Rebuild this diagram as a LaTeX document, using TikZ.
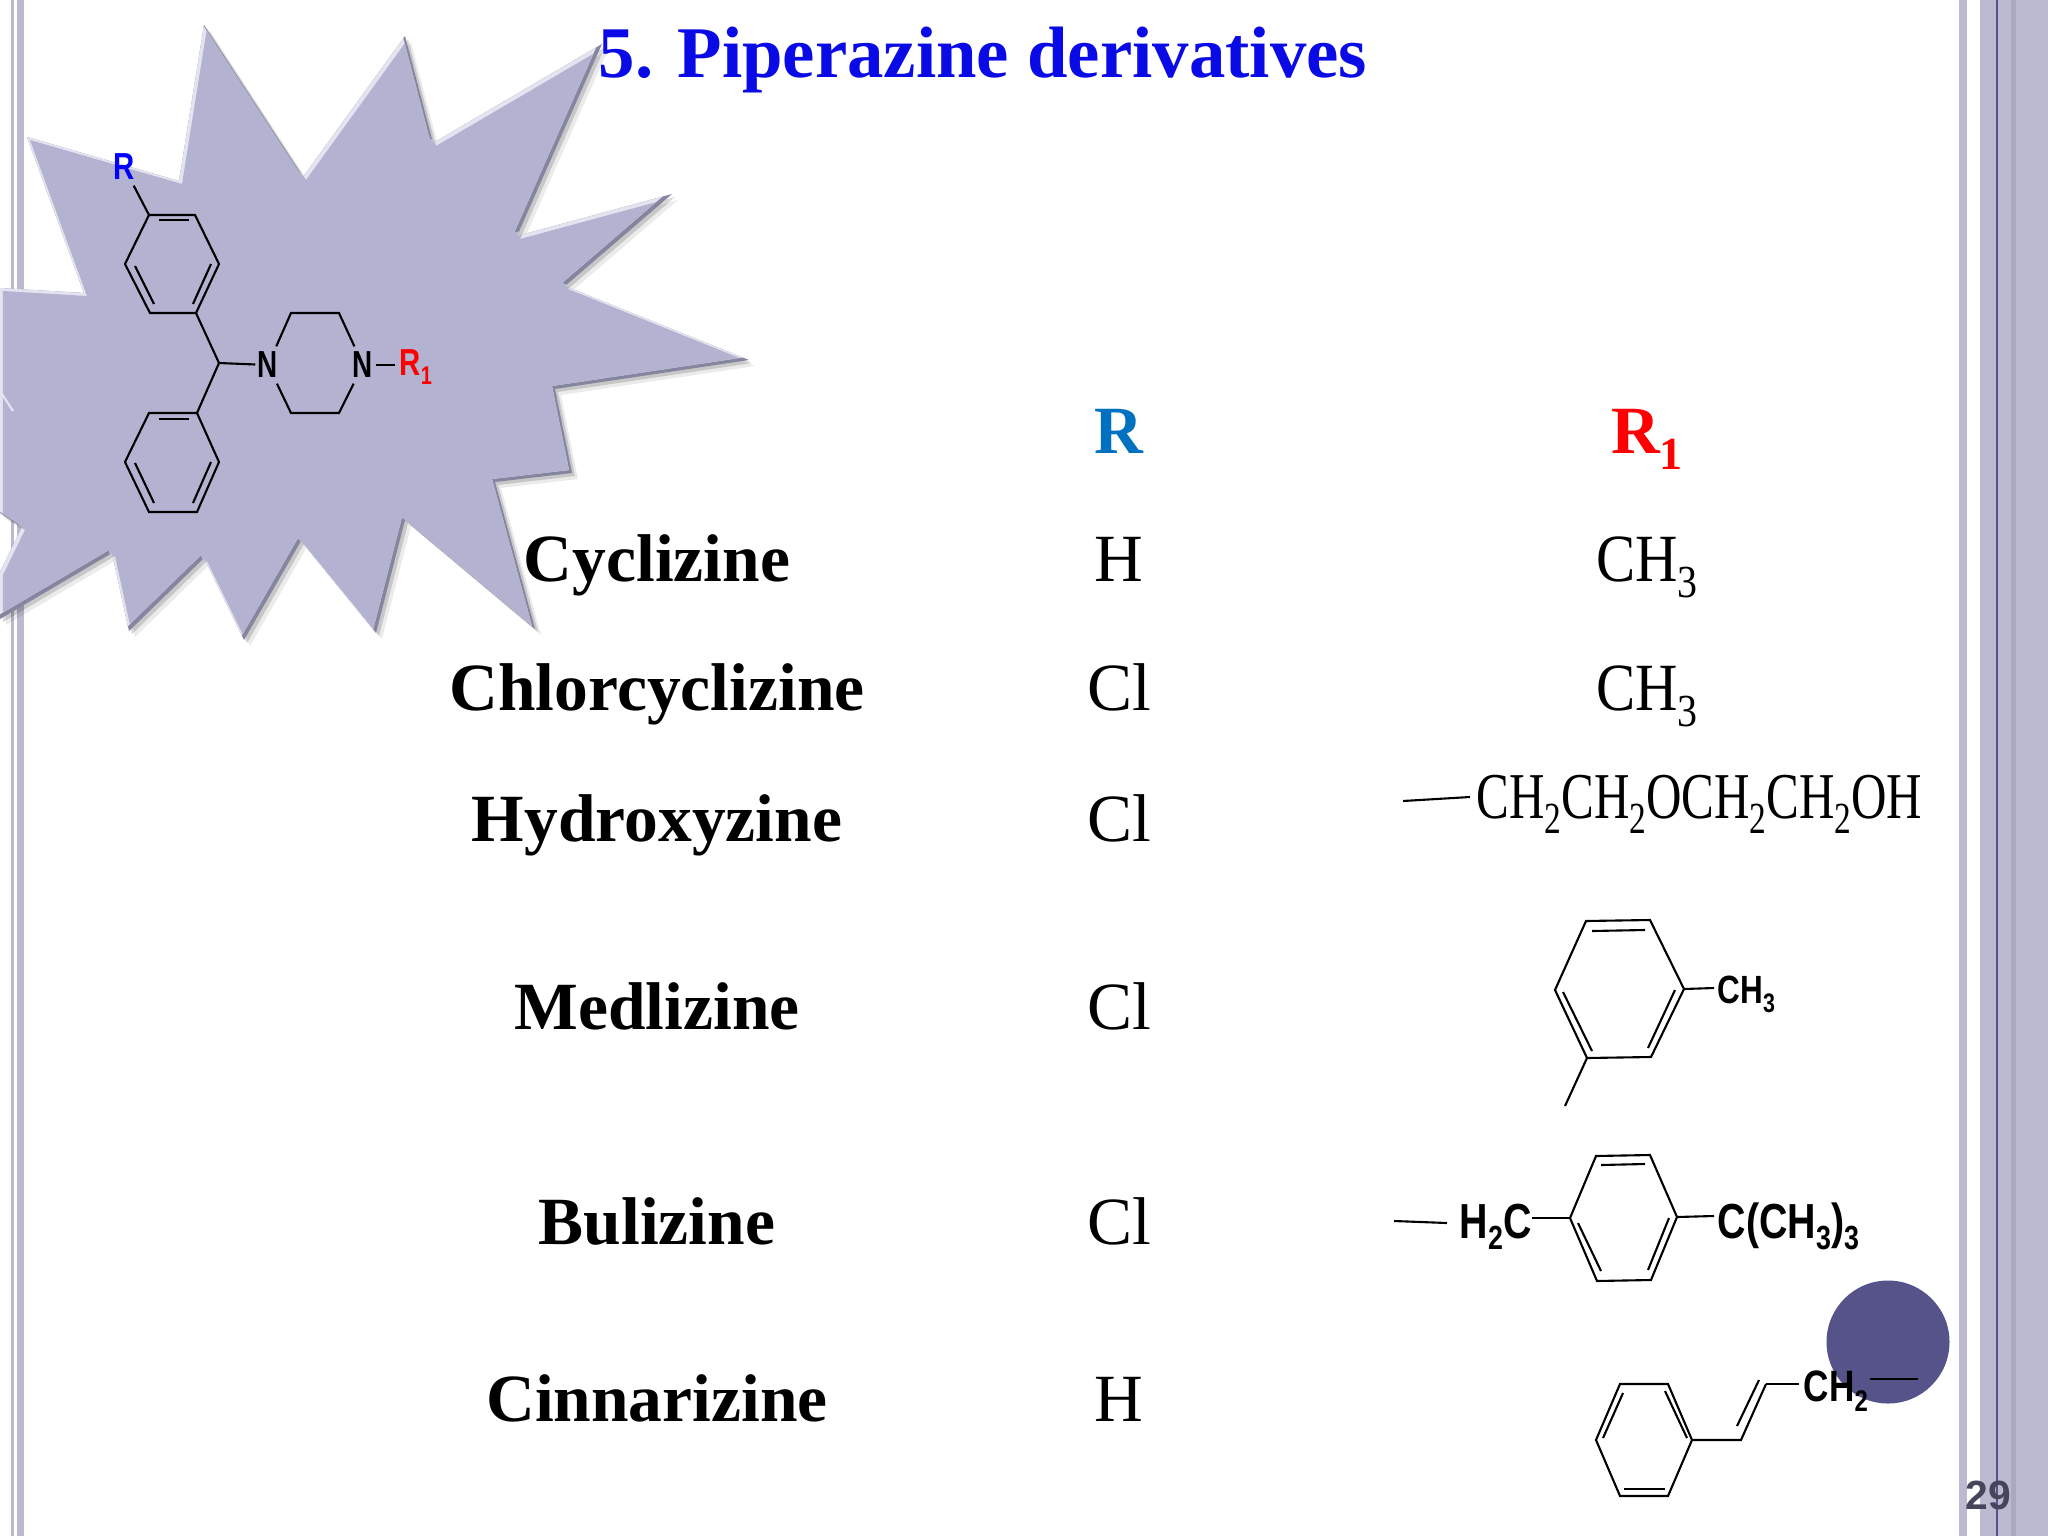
\documentclass[tikz,border=0pt]{standalone}
\usepackage{fontspec}
\setmainfont{Liberation Serif}
\setsansfont{Liberation Sans}
\usetikzlibrary{positioning}

\definecolor{barcol}{HTML}{BCBAD0}
\definecolor{bardark}{HTML}{A9A9BF}
\definecolor{linecol}{HTML}{56528A}
\definecolor{starcol}{HTML}{B3B3D1}
\definecolor{starlight}{HTML}{E4E4F0}
\definecolor{stardark}{HTML}{85859F}
\definecolor{titlecol}{HTML}{0A0AE6}
\definecolor{headblue}{HTML}{0070C0}
\definecolor{pagecol}{HTML}{45455C}

\newcommand{\lowtext}[1]{\raisebox{-0.24em}{\scalebox{0.68}{#1}}}
\newcommand{\starline}{(0,288) -- (84,293) -- (27,137) -- (179,181) -- (204,25) -- (303,177) -- (405,36) -- (433,143) -- (602,44) -- (517,236) -- (672,194) -- (565,286) -- (749,360) -- (555,389) -- (572,473) -- (495,482) -- (535,629) -- (405,520) -- (376,633) -- (301,541) -- (244,640) -- (204,558) -- (129,631) -- (112,553) -- (0,619) -- (0,572) -- (22,527) -- (0,513) -- cycle}

\begin{document}
\begin{tikzpicture}[
    x=0.01cm, y=-0.01cm,
    bond/.style={
        black,
        line width=0.6pt,
        line join=miter
    },
    namelabel/.style={
        anchor=base,
        inner sep=0pt,
        font=\fontsize{19.2pt}{20pt}\selectfont\bfseries
    },
    rowlabel/.style={
        anchor=base,
        inner sep=0pt,
        font=\fontsize{19.2pt}{20pt}\selectfont
    },
    atom/.style={
        inner xsep=0.02cm,
        inner ysep=0.05cm,
        font=\sffamily\bfseries\fontsize{10.7pt}{11pt}\selectfont
    },
    group/.style={
        anchor=base west,
        inner sep=0pt,
        font=\sffamily\bfseries\fontsize{14pt}{15pt}\selectfont
    }
]
    \useasboundingbox (0,0) rectangle (2048,1536);
    \fill[white] (0,0) rectangle (2048,1536);

    % Side bars
    \fill[barcol] (11,0) rectangle (14,1536);
    \fill[barcol] (17,0) rectangle (24,1536);
    \fill[barcol] (1959,0) rectangle (1967,1536);
    \fill[barcol] (1980,0) rectangle (2048,1536);
    \fill[bardark] (2011,0) rectangle (2016,1536);
    \draw[linecol, line width=0.6pt] (1997,0) -- (1997,1536);

    % Star, with soft shadow and bevelled edge
    \fill[black, opacity=0.08, shift={(6,6)}] \starline;
    \fill[black, opacity=0.15, shift={(3,3)}] \starline;
    \begin{scope}
        \clip \starline;
        \fill[stardark] (0,0) rectangle (800,700);
        \fill[starlight, shift={(-3,-3)}] \starline;
        \clip[shift={(-3,-3)}] \starline;
        \fill[starcol, shift={(3,3)}] \starline;
    \end{scope}
    \draw[starlight, line width=0.6pt] (0,391) -- (13,411);

    % Title
    \node[anchor=base, inner sep=0pt, text=titlecol, font=\fontsize{20.7pt}{22pt}\selectfont\bfseries] (title) at (983,77) {5. Piperazine derivatives};

    % Header row
    \node[rowlabel, text=headblue, font=\fontsize{19.2pt}{20pt}\selectfont\bfseries] (headr) at (1119,453) {R};
    \node[rowlabel, text=red, font=\fontsize{19.2pt}{20pt}\selectfont\bfseries] (headra) at (1647,453) {R\lowtext{1}};

    % Names
    \node[namelabel] (cyc) at (657,581) {Cyclizine};
    \node[namelabel] (chl) at (657,710) {Chlorcyclizine};
    \node[namelabel] (hyd) at (657,841) {Hydroxyzine};
    \node[namelabel] (med) at (657,1029) {Medlizine};
    \node[namelabel] (bul) at (657,1244) {Bulizine};
    \node[namelabel] (cin) at (657,1421) {Cinnarizine};

    % R column
    \node[rowlabel] (rcyc) at (1119,581) {H};
    \node[rowlabel] (rchl) at (1119,710) {Cl};
    \node[rowlabel] (rhyd) at (1119,841) {Cl};
    \node[rowlabel] (rmed) at (1119,1029) {Cl};
    \node[rowlabel] (rbul) at (1119,1244) {Cl};
    \node[rowlabel] (rcin) at (1119,1421) {H};

    % R1 column, simple groups
    \node[rowlabel] (mea) at (1647,581) {\scalebox{0.87}[1]{CH\lowtext{3}}};
    \node[rowlabel] (meb) at (1647,710) {\scalebox{0.87}[1]{CH\lowtext{3}}};
    \node[rowlabel, anchor=base west, font=\fontsize{18.6pt}{20pt}\selectfont] (hydgroup) at (1476,818) {\scalebox{0.75}[1]{CH\lowtext{2}CH\lowtext{2}OCH\lowtext{2}CH\lowtext{2}OH}};
    \coordinate (hydfree) at (1403,801);
    \coordinate (hydend) at (1470,797);
    \draw[bond] (hydfree) -- (hydend);

    % Dot
    \fill[linecol] (1888,1342) circle (61.5);

    % Medlizine group
    \foreach \cname/\px/\py in {ma/1586/921, mb/1650/920, mc/1684/989, md/1651/1057, me/1587/1058, mf/1555/990, mtail/1565/1106, mend/1714/988}
        \coordinate (\cname) at (\px,\py);
    \draw[bond] (ma) -- (mb) -- (mc) -- (md) -- (me) -- (mf) -- cycle;
    \draw[bond] (1592,931) -- (1645,930);
    \draw[bond] (1675,990) -- (1648,1048);
    \draw[bond] (1563,992) -- (1592,1051);
    \draw[bond] (me) -- (mtail);
    \node[group, font=\sffamily\bfseries\fontsize{11.2pt}{12pt}\selectfont] (mgroup) at (1717,1003) {\scalebox{0.8}[1]{CH\lowtext{3}}};
    \draw[bond] (mc) -- (mend);

    % Bulizine group
    \foreach \cname/\px/\py in {ba/1570/1218, bb/1596/1156, bc/1650/1155, bd/1677/1217, be/1651/1280, bf/1597/1281, bfree/1394/1221, bend/1447/1223, bstub/1714/1216}
        \coordinate (\cname) at (\px,\py);
    \draw[bond] (ba) -- (bb) -- (bc) -- (bd) -- (be) -- (bf) -- cycle;
    \draw[bond] (1601,1165) -- (1645,1164);
    \draw[bond] (1669,1218) -- (1648,1270);
    \draw[bond] (1578,1223) -- (1601,1271);
    \node[group] (bleft) at (1459,1238) {\scalebox{0.8}[1]{H\lowtext{2}C}};
    \node[group] (bright) at (1717,1238) {\scalebox{0.8}[1]{C(CH\lowtext{3})\lowtext{3}}};
    \draw[bond] (bfree) -- (bend);
    \draw[bond] (bleft.east |- ba) -- (ba);
    \draw[bond] (bd) -- (bstub);

    % Cinnarizine group
    \foreach \cname/\px/\py in {ca/1620/1384, cb/1668/1384, cc/1692/1440, cd/1668/1496, ce/1620/1496, cf/1596/1440, cg/1741/1440, ch/1766/1384, cfree/1918/1379, cend/1870/1379, cstub/1799/1384}
        \coordinate (\cname) at (\px,\py);
    \draw[bond] (ca) -- (cb) -- (cc) -- (cd) -- (ce) -- (cf) -- cycle;
    \draw[bond] (1665,1391) -- (1687,1438);
    \draw[bond] (1603,1438) -- (1623,1393);
    \draw[bond] (1624,1489) -- (1665,1489);
    \draw[bond] (cc) -- (cg) -- (ch);
    \draw[bond] (1737,1426) -- (1759,1380);
    \node[group, font=\sffamily\bfseries\fontsize{12.5pt}{14pt}\selectfont] (cgroup) at (1803,1401) {\scalebox{0.8}[1]{CH\lowtext{2}}};
    \draw[bond] (ch) -- (cstub);
    \draw[bond] (cend) -- (cfree);

    % Molecule on the star
    \node[atom, text=blue] (rtop) at (124,167) {\scalebox{0.78}[1]{R}};
    \node[atom] (nleft) at (268,365) {\scalebox{0.74}[1]{N}};
    \node[atom] (nright) at (363,365) {\scalebox{0.74}[1]{N}};
    \node[atom, text=red, anchor=west, inner xsep=0.04cm] (rone) at (395,367) {\scalebox{0.78}[1]{R\lowtext{1}}};
    \foreach \cname/\px/\py in {ua/149/215, ub/195/215, uc/219/264, ud/196/313, ue/150/313, uf/125/264, lc/219/363, da/149/413, db/197/413, dc/219/462, dd/197/512, de/149/512, df/125/462, pa/291/313, pb/339/313, pc/291/413, pd/339/413}
        \coordinate (\cname) at (\px,\py);
    \draw[bond] (ua) -- (ub) -- (uc) -- (ud) -- (ue) -- (uf) -- cycle;
    \draw[bond] (da) -- (db) -- (dc) -- (dd) -- (de) -- (df) -- cycle;
    \draw[bond] (159,220) -- (189,220);
    \draw[bond] (211,264) -- (193,304);
    \draw[bond] (135,266) -- (154,304);
    \draw[bond] (159,419) -- (189,419);
    \draw[bond] (211,462) -- (193,503);
    \draw[bond] (135,463) -- (154,503);
    \draw[bond] (rtop) -- (ua);
    \draw[bond] (ud) -- (lc) -- (db);
    \draw[bond] (lc) -- (nleft);
    \draw[bond] (nleft) -- (pa) -- (pb) -- (nright);
    \draw[bond] (nleft) -- (pc) -- (pd) -- (nright);
    \draw[bond] (nright) -- (rone.west |- nright);

    % Page number
    \node[inner sep=0pt, text=pagecol, font=\sffamily\bfseries\fontsize{11.6pt}{13pt}\selectfont] (pagenum) at (1988,1495) {29};
\end{tikzpicture}
\end{document}
